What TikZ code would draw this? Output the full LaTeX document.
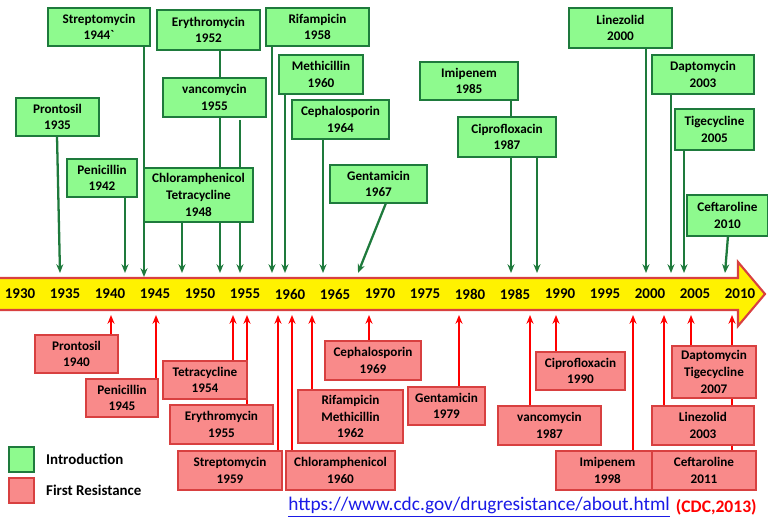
\documentclass[tikz,border=0pt]{standalone}
\usepackage{fontspec}
\setmainfont{Carlito}
\usetikzlibrary{arrows.meta,positioning}
\definecolor{gfill}{HTML}{8EFA8E}
\definecolor{gline}{HTML}{1E7A3C}
\definecolor{rfill}{HTML}{F98A8A}
\definecolor{rline}{HTML}{D84040}
\definecolor{urlblue}{HTML}{1A1AE6}
\tikzset{
  gbox/.style={draw=gline, fill=gfill, line width=0.8pt, align=center, inner sep=1pt, font=\fontsize{7.5}{9.5}\selectfont\bfseries},
  rbox/.style={draw=rline, fill=rfill, line width=0.8pt, align=center, inner sep=1pt, font=\fontsize{7.5}{9.5}\selectfont\bfseries},
  garr/.style={gline, line width=1.3pt, -{Stealth[length=5pt,width=4pt]}},
  rarr/.style={red, line width=1.3pt, -{Stealth[length=5pt,width=4pt]}}
}
\newcommand{\bx}[7]{\node[#1, minimum width=#4*0.02cm, minimum height=#5*0.02cm] (#2) at (#3) {#6\\#7};}
\begin{document}
\begin{tikzpicture}[x=0.02cm, y=-0.02cm]
    \useasboundingbox (0,0) rectangle (768,517);

    % green lines behind the boxes
    \draw[garr] (57,136) -- (60,273);
    \draw[garr] (144,46) -- (144,277);
    \draw[garr] (125,197) -- (125,273);
    \draw[garr] (220,50) -- (220,273);
    \draw[garr] (240,120) -- (240,273);
    \draw[garr] (182,222) -- (182,273);
    \draw[garr] (272,46) -- (272,273);
    \draw[garr] (285,94) -- (285,273);
    \draw[garr] (323,139) -- (323,273);
    \draw[garr] (386,203) -- (358,273);
    \draw[garr] (511,100) -- (511,273);
    \draw[garr] (537,157) -- (537,273);
    \draw[garr] (646,48) -- (646,273);
    \draw[garr] (671,94) -- (671,273);
    \draw[garr] (684,150) -- (684,273);
    \draw[garr] (728,236) -- (725,273);

    % red lines behind the boxes
    \foreach \x/\y in {111/335, 156/395, 233/361, 247/405, 278/451, 292/451, 312/390, 369/341, 459/387, 530/406, 556/352, 633/451, 664/406, 691/346, 732/451}
        \draw[rarr] (\x,\y) -- (\x,315);

    % time band
    \draw[rline, fill=yellow, line width=1.2pt] (-2,278) -- (738,278) -- (738,262) -- (765,294) -- (738,326) -- (738,310) -- (-2,310) -- cycle;
    \foreach \yr in {1930,1935,...,2010}
        \node[font=\fontsize{8.5}{9}\selectfont\bfseries] (y\yr) at ({20+(\yr-1930)*9},294) {\yr};

    % introduction
    \bx{gbox}{gpro}{57.5,117}{83}{38}{Prontosil}{1935}
    \bx{gbox}{gstr}{99,27}{102}{38}{Streptomycin}{1944\textasciigrave}
    \bx{gbox}{gpen}{102,178}{70}{38}{Penicillin}{1942}
    \bx{gbox}{gery}{208.5,30}{103}{40}{Erythromycin}{1952}
    \bx{gbox}{gvan}{214.5,97.5}{103}{39}{vancomycin}{1955}
    \node[gbox, minimum width=109*0.02cm, minimum height=54*0.02cm] (gchl) at (198.5,195) {Chloramphenicol\\Tetracycline\\1948};
    \bx{gbox}{grif}{317.5,27}{103}{38}{Rifampicin}{1958}
    \bx{gbox}{gmet}{321,74.5}{84}{39}{Methicillin}{1960}
    \bx{gbox}{gcep}{340.5,119.5}{97}{39}{Cephalosporin}{1964}
    \bx{gbox}{ggen}{378.5,184}{97}{38}{Gentamicin}{1967}
    \bx{gbox}{gimi}{469,81}{98}{38}{Imipenem}{1985}
    \bx{gbox}{gcip}{507,137}{98}{40}{Ciprofloxacin}{1987}
    \bx{gbox}{glin}{620.5,28}{103}{40}{Linezolid}{2000}
    \bx{gbox}{gdap}{703,74.5}{102}{39}{Daptomycin}{2003}
    \bx{gbox}{gtig}{714.5,129.5}{79}{41}{Tigecycline}{2005}
    \bx{gbox}{gcef}{727.5,215.5}{81}{41}{Ceftaroline}{2010}

    % first resistance
    \bx{rbox}{rpro}{76.5,354}{83}{38}{Prontosil}{1940}
    \bx{rbox}{rpen}{122,398}{72}{38}{Penicillin}{1945}
    \bx{rbox}{rtet}{205,380}{84}{38}{Tetracycline}{1954}
    \bx{rbox}{rery}{221.5,424.5}{103}{39}{Erythromycin}{1955}
    \bx{rbox}{rstr}{230,470.5}{104}{39}{Streptomycin}{1959}
    \bx{rbox}{rchl}{340.5,470.5}{109}{39}{Chloramphenicol}{1960}
    \node[rbox, minimum width=105*0.02cm, minimum height=53*0.02cm] (rrif) at (350.5,416.5) {Rifampicin\\Methicillin\\1962};
    \bx{rbox}{rcep}{373,360.5}{96}{39}{Cephalosporin}{1969}
    \bx{rbox}{rgen}{446.5,406}{77}{38}{Gentamicin}{1979}
    \bx{rbox}{rvan}{549.5,425.5}{103}{39}{vancomycin}{1987}
    \bx{rbox}{rcip}{580.5,371}{89}{38}{Ciprofloxacin}{1990}
    \bx{rbox}{rimi}{607.5,470.5}{103}{39}{Imipenem}{1998}
    \bx{rbox}{rlin}{703,425.5}{102}{39}{Linezolid}{2003}
    \node[rbox, minimum width=84*0.02cm, minimum height=52*0.02cm] (rdap) at (714,372) {Daptomycin\\Tigecycline\\2007};
    \bx{rbox}{rcef}{704,470.5}{104}{39}{Ceftaroline}{2011}

    % legend
    \node[draw=gline, fill=gfill, line width=0.8pt, minimum size=25*0.02cm, inner sep=0pt] (lgi) at (21.5,459.5) {};
    \node[right=3pt of lgi, font=\fontsize{8.5}{9}\selectfont\bfseries] (lgit) {Introduction};
    \node[draw=rline, fill=rfill, line width=0.8pt, minimum size=25*0.02cm, inner sep=0pt] (lgr) at (21.5,490.5) {};
    \node[right=3pt of lgr, font=\fontsize{8.5}{9}\selectfont\bfseries] (lgrt) {First Resistance};

    % source
    \node[anchor=east, inner sep=0pt, font=\fontsize{10}{10}\selectfont\bfseries, text=red] (src) at (757,507) {(CDC,2013)};
    \node[left=3pt of src, inner sep=0pt, font=\fontsize{11}{11}\selectfont, text=urlblue] (url) {\underline{https://www.cdc.gov/drugresistance/about.html}};
\end{tikzpicture}
\end{document}
